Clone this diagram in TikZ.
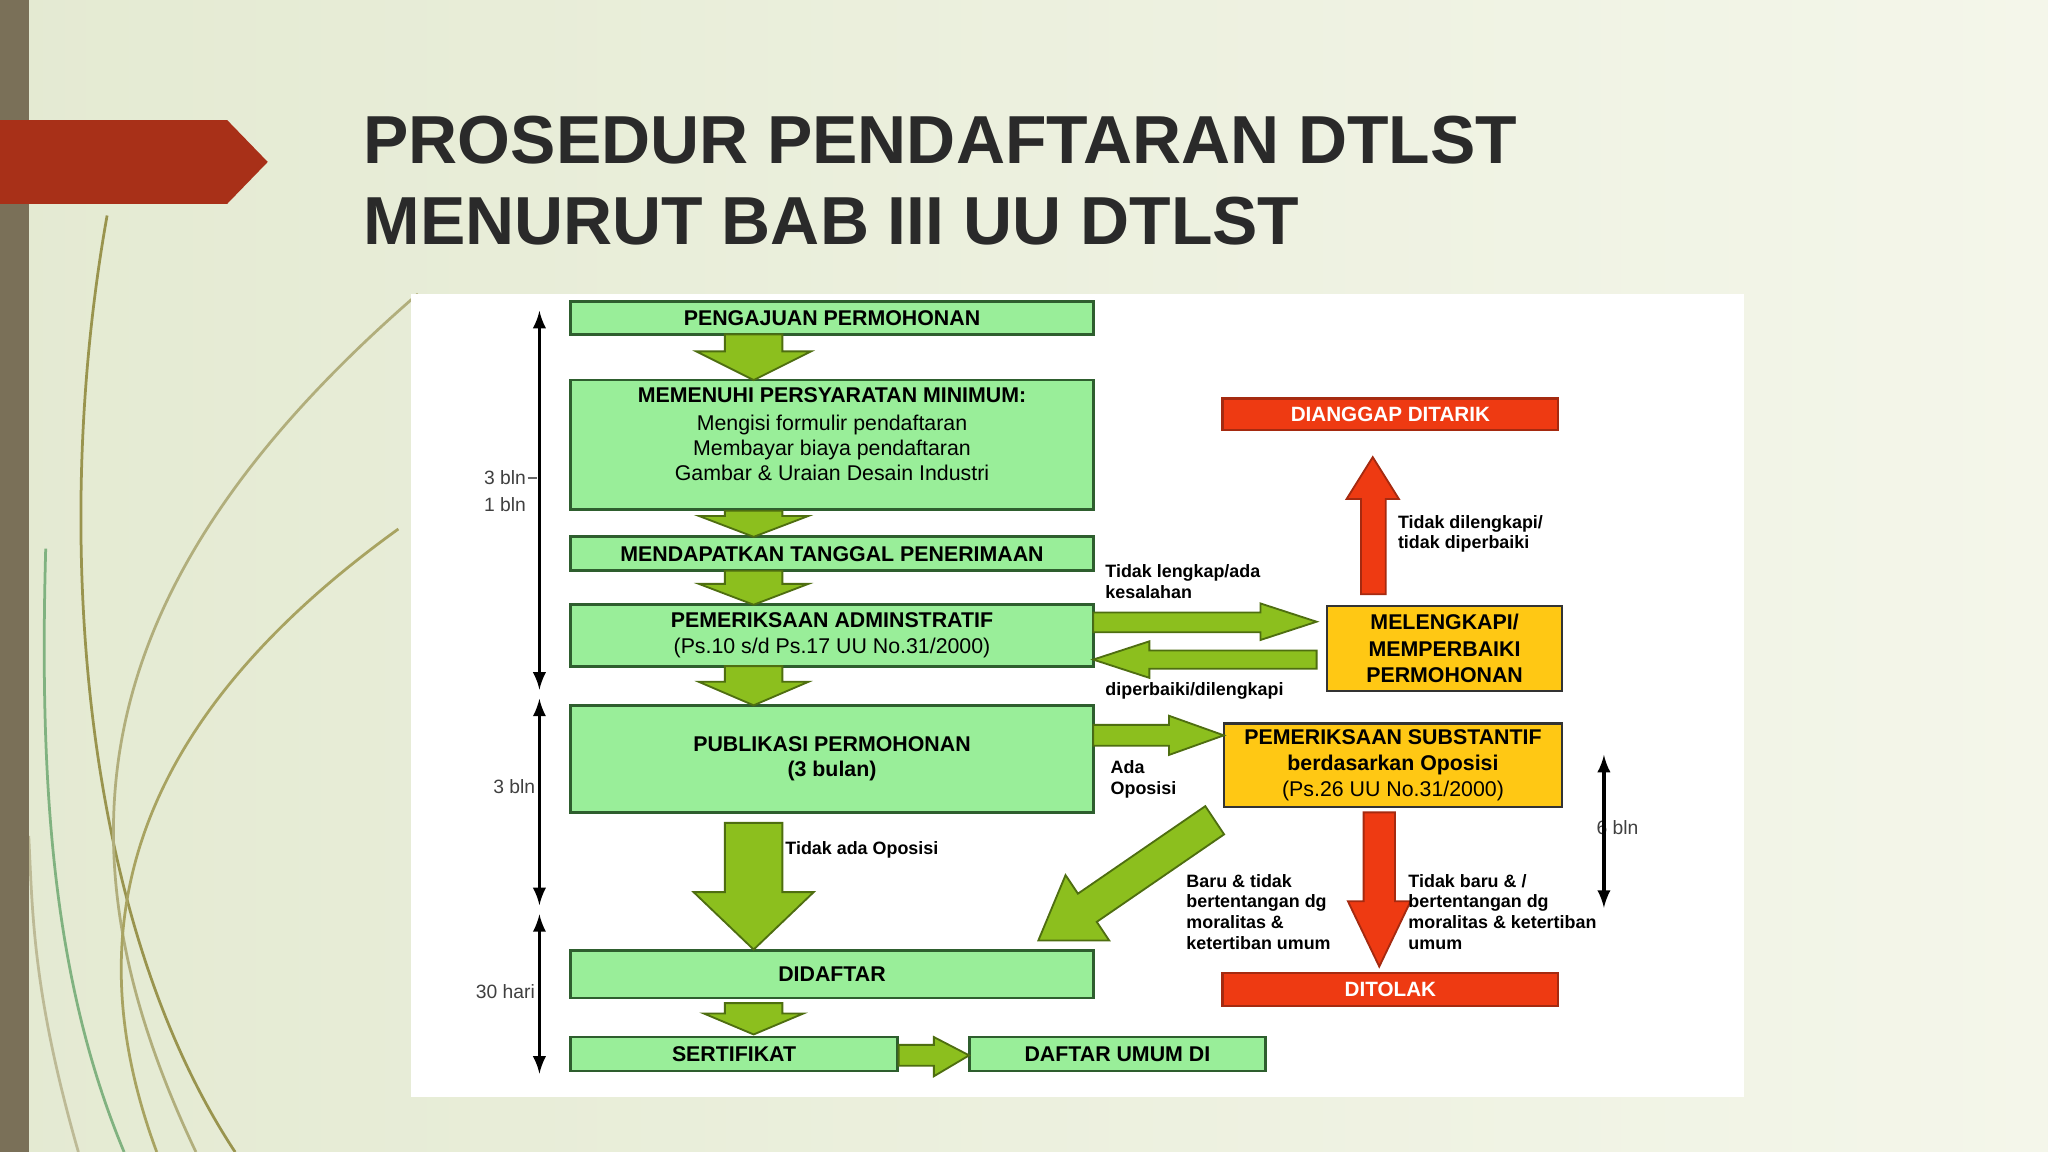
\documentclass[tikz,border=0pt]{standalone}
\usepackage{fontspec}
\setmainfont{Liberation Sans}
\usetikzlibrary{shapes.geometric}
\definecolor{bgA}{HTML}{E4EAD2}
\definecolor{bgB}{HTML}{F4F6EA}
\definecolor{gbox}{HTML}{99EE99}
\definecolor{gline}{HTML}{2E5E2E}
\definecolor{garr}{HTML}{8CBF1E}
\definecolor{garrd}{HTML}{4E6E10}
\definecolor{obox}{HTML}{FFC814}
\definecolor{rbox}{HTML}{EE3A12}
\definecolor{rdark}{HTML}{A52A10}
\definecolor{ttl}{HTML}{2A2A2A}
\definecolor{barc}{HTML}{7A7058}
\definecolor{tagc}{HTML}{A83018}
\tikzset{
 gb/.style={draw=gline,line width=1.2pt,fill=gbox,align=center,inner sep=0pt,font=\fontsize{9.3}{11.2}\selectfont\bfseries},
 ob/.style={draw=black!80,line width=1pt,fill=obox,align=center,inner sep=0pt,font=\fontsize{9.3}{11.4}\selectfont\bfseries},
 rb/.style={draw=rdark,line width=1pt,fill=rbox,align=center,inner sep=0pt,text=white,font=\fontsize{9}{10}\selectfont\bfseries},
 ga/.style={draw=garrd,line width=0.8pt,fill=garr},
 ra/.style={draw=rdark,line width=0.8pt,fill=rbox},
 lbl/.style={align=left,anchor=north west,inner sep=0pt,font=\fontsize{7.8}{9}\selectfont\bfseries},
 tl/.style={align=left,inner sep=0pt,font=\fontsize{8.4}{10.5}\selectfont,text=black!75},
 tm/.style={line width=1.6pt,<->,>=latex}
}
\newcommand\dnarr[5]{\draw[ga] (#1-22,#2) -- (#1+22,#2) -- (#1+22,#3) -- (#1+#5,#3) -- (#1,#4) -- (#1-#5,#3) -- (#1-22,#3) -- cycle;}
\begin{document}
\begin{tikzpicture}[x=0.02cm,y=-0.02cm]
\shade[left color=bgA,right color=bgB] (0,0) rectangle (1568,882);
\useasboundingbox (0,0) rectangle (1568,882);
% decorative curves
\begin{scope}[line width=1.2pt]
\draw[olive!70!black!70] (180,882) .. controls (60,700) and (40,400) .. (82,165);
\draw[olive!60!black!50] (150,882) .. controls (40,650) and (60,450) .. (320,225);
\draw[olive!70!black!60] (120,882) .. controls (60,720) and (90,560) .. (305,405);
\draw[green!40!black!50] (95,882) .. controls (40,750) and (30,600) .. (35,420);
\draw[olive!50!black!40] (60,882) .. controls (25,760) and (25,700) .. (22,640);
\end{scope}
\fill[barc] (0,0) rectangle (22,882);
\fill[tagc] (0,92) -- (174,92) -- (205,124) -- (174,156) -- (0,156) -- cycle;
\node[anchor=base west,inner sep=0pt,text=ttl,align=left,font=\fontsize{29.6}{35.3}\selectfont\bfseries] (title) at (278,187) {PROSEDUR PENDAFTARAN DTLST\\MENURUT BAB III UU DTLST};
\fill[white] (315,225) rectangle (1335,840);
% green boxes
\node[gb,minimum width=8cm,minimum height=0.5cm] (n1) at (637,243.5) {PENGAJUAN PERMOHONAN};
\node[gb,minimum width=8cm,minimum height=1.98cm] (n2) at (637,340.5) {};
\node[gb,draw=none,fill=none,anchor=north] (n2t) at (637,296) {MEMENUHI PERSYARATAN MINIMUM:\\[1pt]{\mdseries Mengisi formulir pendaftaran}\\[-0.5pt]{\mdseries Membayar biaya pendaftaran}\\[-0.5pt]{\mdseries Gambar \& Uraian Desain Industri}};
\node[gb,minimum width=8cm,minimum height=0.52cm] (n3) at (637,424) {MENDAPATKAN TANGGAL PENERIMAAN};
\node[gb,minimum width=8cm,minimum height=0.94cm] (n4) at (637,486.5) {PEMERIKSAAN ADMINSTRATIF\\{\mdseries (Ps.10 s/d Ps.17 UU No.31/2000)}};
\node[gb,minimum width=8cm,minimum height=1.64cm] (n5) at (637,581) {PUBLIKASI PERMOHONAN\\(3 bulan)};
\node[gb,minimum width=8cm,minimum height=0.72cm] (n6) at (637,746) {DIDAFTAR};
\node[gb,minimum width=5cm,minimum height=0.52cm] (n7) at (562,807) {SERTIFIKAT};
\node[gb,minimum width=4.54cm,minimum height=0.52cm] (n8) at (855.5,807) {DAFTAR UMUM DI};
\node[ob,minimum width=3.6cm,minimum height=1.3cm] (m1) at (1106,496.5) {MELENGKAPI/\\MEMPERBAIKI\\PERMOHONAN};
\node[ob,minimum width=5.18cm,minimum height=1.28cm] (m2) at (1066.5,586) {PEMERIKSAAN SUBSTANTIF\\berdasarkan Oposisi\\{\mdseries (Ps.26 UU No.31/2000)}};
\node[rb,minimum width=5.14cm,minimum height=0.48cm] (r1) at (1064.5,317) {DIANGGAP DITARIK};
\node[rb,minimum width=5.14cm,minimum height=0.5cm] (r2) at (1064.5,757.5) {DITOLAK};
% vertical block arrows
\dnarr{577}{256}{269}{291}{44}
\dnarr{577}{391}{395}{411}{42}
\dnarr{577}{437}{447}{463}{42}
\dnarr{577}{510}{522}{540}{42}
\dnarr{577}{630}{683}{727}{46}
\dnarr{577}{768}{776}{792}{38}
% horizontal arrows
\draw[ga] (688,800) -- (715,800) -- (715,794) -- (742,808) -- (715,824) -- (715,816) -- (688,816) -- cycle;
\draw[ga] (837,469) -- (965,469) -- (965,462) -- (1008,476) -- (965,490) -- (965,484) -- (837,484) -- cycle;
\draw[ga] (1008,498) -- (880,498) -- (880,491) -- (837,505) -- (880,519) -- (880,512) -- (1008,512) -- cycle;
\draw[ga] (837,555) -- (895,555) -- (895,548) -- (937,563) -- (895,578) -- (895,571) -- (837,571) -- cycle;
\draw[ga] (937.2,638.8) -- (839.7,705.8) -- (849.2,720) -- (795,720) -- (815.8,670) -- (825.3,684.2) -- (922.8,617.2) -- cycle;
% red arrows
\draw[ra] (1042,455) -- (1042,382) -- (1031,382) -- (1051,350) -- (1071,382) -- (1061,382) -- (1061,455) -- cycle;
\draw[ra] (1044,622) -- (1068,622) -- (1068,690) -- (1080,690) -- (1056,740) -- (1032,690) -- (1044,690) -- cycle;
% labels
\node[lbl] (l1) at (846,432) {Tidak lengkap/ada\\kesalahan};
\node[lbl] (l2) at (846,522) {diperbaiki/dilengkapi};
\node[lbl] (l3) at (850,582) {Ada\\Oposisi};
\node[lbl] (l4) at (601,644) {Tidak ada Oposisi};
\node[lbl] (l5) at (908,669) {Baru \& tidak\\bertentangan dg\\moralitas \&\\ketertiban umum};
\node[lbl] (l6) at (1078,669) {Tidak baru \& /\\bertentangan dg\\moralitas \& ketertiban\\umum};
\node[lbl] (l7) at (1070,394) {Tidak dilengkapi/\\tidak diperbaiki};
% timeline
\node[tl,anchor=east] (t1) at (403,366) {3 bln};
\draw[line width=0.6pt,black!60] (404,366) -- (411,366);
\node[tl,anchor=east] (t2) at (403,386) {1 bln};
\node[tl,anchor=east] (t3) at (410,602) {3 bln};
\node[tl,anchor=west] (t4) at (364,759) {30 hari};
\node[tl,anchor=west] (t5) at (1222,634) {6 bln};
\coordinate (a1) at (413,238); \coordinate (a2) at (413,528);
\coordinate (a3) at (413,535); \coordinate (a4) at (413,693);
\coordinate (a5) at (413,700); \coordinate (a6) at (413,822);
\coordinate (b1) at (1228,578); \coordinate (b2) at (1228,695);
\fill[white] (411,745) rectangle (430,775);
\draw[tm] (a1) -- (a2);
\draw[tm] (a3) -- (a4);
\draw[tm] (a5) -- (a6);
\draw[tm] (b1) -- (b2);
\end{tikzpicture}
\end{document}
